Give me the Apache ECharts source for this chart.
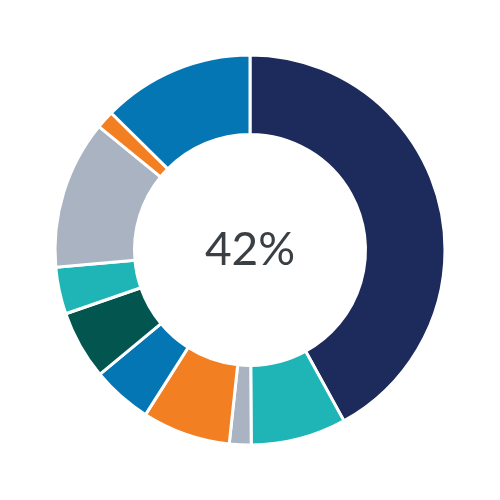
<!DOCTYPE html>
<html><head><meta charset="utf-8">
<script src="https://cdn.jsdelivr.net/npm/echarts@6/dist/echarts.min.js"></script>
<style>html,body{margin:0;padding:0;background:#fff}#c{width:500px;height:500px}</style>
</head><body><div id="c"></div>
<script>
const categories = ['A','B','C','D','E','F','G','H','I','J'];
const values = [42.0, 7.9, 1.8, 7.3, 5.0, 5.7, 3.9, 12.3, 1.5, 12.6];
const colors = ['#1c2b5b','#1fb5b6','#a9b3c1','#f27f22','#0576b4','#02564f','#1fb5b6','#a9b3c1','#f27f22','#0576b4'];
const centerLabel = '42%';
const chart = echarts.init(document.getElementById('c'));
chart.setOption({
  animation: false,
  title: {text: centerLabel, left: 'center', top: 'middle',
    textStyle: {fontFamily: 'Lato', fontWeight: 'normal', fontSize: 46, color: '#3a3f44'}},
  series: [{
    type: 'pie', center: ['50%','50%'], radius: [115.5, 195], startAngle: 90, clockwise: true,
    label: {show: false}, labelLine: {show: false},
    itemStyle: {borderColor: '#fff', borderWidth: 3},
    data: categories.map((c,i)=>({name:c, value: values[i], itemStyle:{color: colors[i]}}))
  }]
});
</script></body></html>
